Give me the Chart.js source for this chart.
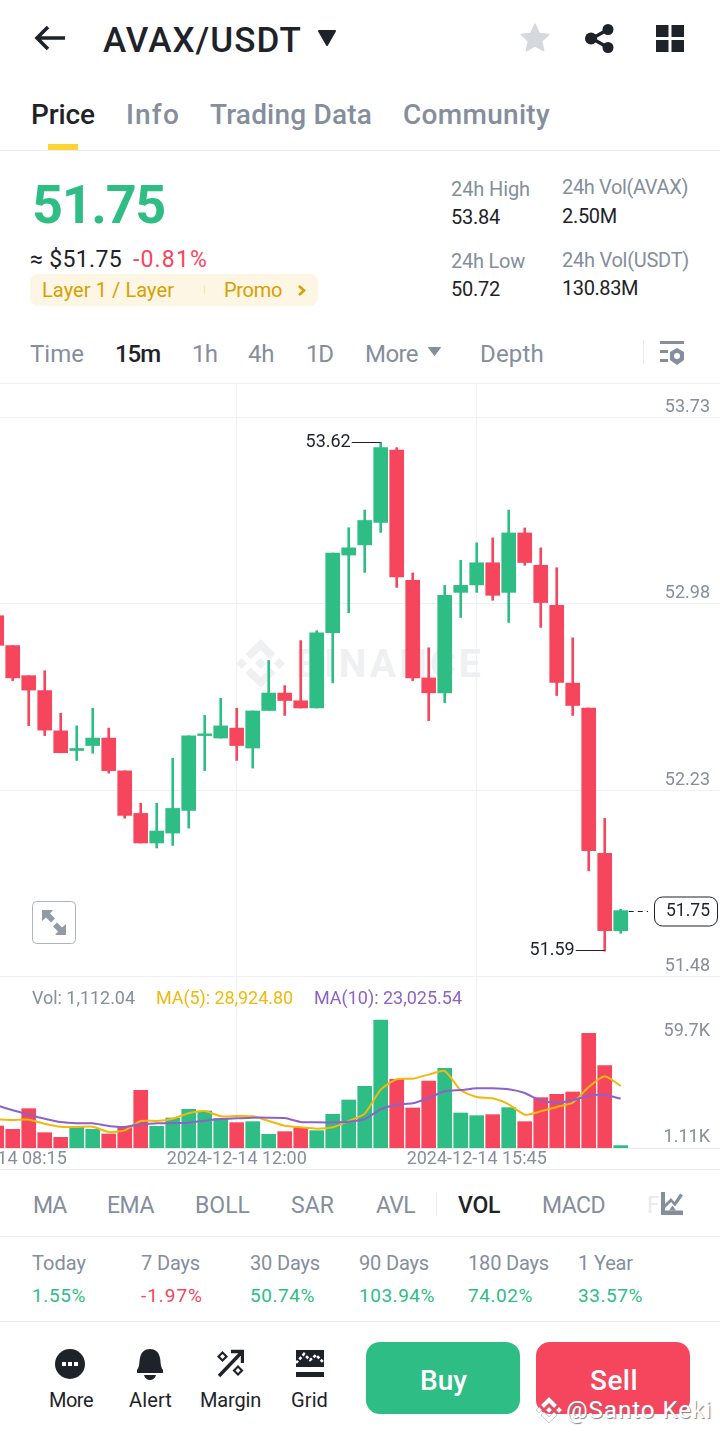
<!DOCTYPE html>
<html>
<head>
<meta charset="utf-8">
<title>AVAX/USDT</title>
<script src="https://cdn.jsdelivr.net/npm/chart.js@4/dist/chart.umd.min.js"></script>
<style>
  html, body { margin: 0; padding: 0; background: #fff; }
  body { width: 720px; height: 1433px; position: relative; overflow: hidden; font-family: Roboto, sans-serif; color: #1e2329; }
  .t { position: absolute; white-space: nowrap; transform: translateY(-50%); line-height: 1; }
  .g { color: #848e9c; }
  .up { color: #2ebd85; }
  .dn { color: #f6465d; }
  .hr { position: absolute; left: 0; width: 720px; height: 1px; background: #eaecef; }
  .vr { position: absolute; width: 1px; background: #eaecef; }
  canvas { position: absolute; left: 0; display: block; }
  svg { position: absolute; display: block; }
  .btn { position: absolute; top: 1342px; width: 154px; height: 72px; border-radius: 14px; }
</style>
</head>
<body>
<svg width="0" height="0" style="position:absolute"><defs><symbol id="bnb" viewBox="0 0 126.61 126.61">
  <path d="M38.73 53.2l24.59-24.58 24.6 24.6 14.3-14.31L63.32 0 24.43 38.88 38.73 53.2z"/>
  <path d="M0 63.31l14.3-14.31 14.31 14.31-14.31 14.3z"/>
  <path d="M38.73 73.41l24.59 24.59 24.6-24.6 14.31 14.29-38.9 38.91-38.91-38.88-.02-.02 14.33-14.29z"/>
  <path d="M98 63.31l14.3-14.31 14.31 14.3-14.31 14.32z"/>
  <path d="M77.83 63.3L63.32 48.78 52.59 59.51l-1.24 1.23-2.54 2.54 14.51 14.5 14.51-14.47z"/>
</symbol></defs></svg>

<!-- header -->
<svg style="left:34px;top:24px" width="32" height="28" viewBox="0 0 32 28"><path d="M14 3 L3 14 L14 25 M3 14 H31" fill="none" stroke="#1e2329" stroke-width="3.6"/></svg>
<span class="t" data-w="199" style="left:103px;top:40px;font-size:35px;font-weight:500">AVAX/USDT</span>
<svg style="left:317px;top:30px" width="20" height="16" viewBox="0 0 20 16"><path d="M2 1 H18 L10 15 Z" fill="#1e2329" stroke="#1e2329" stroke-width="2" stroke-linejoin="round"/></svg>
<svg style="left:519px;top:22px" width="32" height="32" viewBox="0 0 24 24"><path d="M12 1.5l3.2 7 7.3.8-5.4 5 1.5 7.4L12 18l-6.6 3.7 1.5-7.4-5.4-5 7.3-.8z" fill="#d5d9de" stroke="#d5d9de" stroke-linejoin="round"/></svg>
<svg style="left:584px;top:23px" width="31" height="31" viewBox="0 0 31 31"><path d="M23 7 L8 15.5 L23 24" fill="none" stroke="#1e2329" stroke-width="3.4"/><circle cx="24" cy="6.5" r="5.5" fill="#1e2329"/><circle cx="7" cy="15.5" r="6" fill="#1e2329"/><circle cx="24" cy="24.5" r="5.5" fill="#1e2329"/></svg>
<svg style="left:656px;top:25px" width="28" height="27" viewBox="0 0 28 27" fill="#1e2329"><rect width="12.5" height="12"/><rect x="15.5" width="12.5" height="12"/><rect y="15" width="12.5" height="12"/><rect x="15.5" y="15" width="12.5" height="12"/></svg>

<!-- tabs -->
<span class="t" data-w="64" style="left:31px;top:115px;font-size:28px;font-weight:500">Price</span>
<span class="t g" data-w="54" style="left:126px;top:115px;font-size:28px;font-weight:500">Info</span>
<span class="t g" data-w="162" style="left:210px;top:115px;font-size:28px;font-weight:500">Trading Data</span>
<span class="t g" data-w="147" style="left:403px;top:115px;font-size:28px;font-weight:500">Community</span>
<div style="position:absolute;left:48px;top:144px;width:30px;height:6px;background:#fcd535"></div>
<div class="hr" style="top:150px"></div>

<!-- price block -->
<span class="t up" data-w="133" style="left:32px;top:205px;font-size:54px;font-weight:700">51.75</span>
<span class="t" data-w="92" style="left:30px;top:259px;font-size:23px">≈ $51.75</span>
<span class="t dn" data-w="75" style="left:133px;top:259px;font-size:23px">-0.81%</span>
<div style="position:absolute;left:30px;top:274px;width:288px;height:32px;border-radius:8px;background:#fdf6e4"></div>
<span class="t" data-w="132" style="left:42px;top:290px;font-size:20px;color:#d89f00">Layer 1 / Layer</span>
<div style="position:absolute;left:204px;top:286px;width:1px;height:8px;background:#f3e3b3"></div>
<span class="t" data-w="58" style="left:224px;top:290px;font-size:20px;color:#d89f00">Promo</span>
<svg style="left:297px;top:284px" width="9" height="13" viewBox="0 0 9 13"><path d="M2 2 L7 6.5 L2 11" fill="none" stroke="#d89f00" stroke-width="2.6"/></svg>

<span class="t g" data-w="79" style="left:451px;top:189px;font-size:20px">24h High</span>
<span class="t" data-w="49" style="left:451px;top:217px;font-size:20px">53.84</span>
<span class="t g" data-w="74" style="left:451px;top:261px;font-size:20px">24h Low</span>
<span class="t" data-w="49" style="left:451px;top:289px;font-size:20px">50.72</span>
<span class="t g" data-w="126" style="left:562px;top:187px;font-size:20px">24h Vol(AVAX)</span>
<span class="t" data-w="55" style="left:562px;top:216px;font-size:20px">2.50M</span>
<span class="t g" data-w="127" style="left:562px;top:260px;font-size:20px">24h Vol(USDT)</span>
<span class="t" data-w="76" style="left:562px;top:288px;font-size:20px">130.83M</span>

<!-- interval row -->
<span class="t g" data-w="54" style="left:30px;top:354px;font-size:24px">Time</span>
<span class="t" data-w="45" style="left:115px;top:354px;font-size:24px;font-weight:500">15m</span>
<span class="t g" data-w="25" style="left:192px;top:354px;font-size:24px">1h</span>
<span class="t g" data-w="26" style="left:248px;top:354px;font-size:24px">4h</span>
<span class="t g" data-w="27" style="left:306px;top:354px;font-size:24px">1D</span>
<span class="t g" data-w="53" style="left:365px;top:354px;font-size:24px">More</span>
<svg style="left:427px;top:346px" width="15" height="11" viewBox="0 0 15 11"><path d="M1.5 1.5 H13.5 L7.5 9.5 Z" fill="#848e9c" stroke="#848e9c" stroke-linejoin="round"/></svg>
<span class="t g" data-w="64" style="left:480px;top:354px;font-size:24px">Depth</span>
<div class="vr" style="left:643px;top:340px;height:24px"></div>
<svg style="left:660px;top:341px" width="24" height="24" viewBox="0 0 24 24" fill="#848e9c"><rect width="24" height="3"/><rect y="9" width="8" height="3"/><rect y="18" width="8" height="3"/><path d="M17 7 L24 11 V19 L17 24 L10 19 V11 Z"/><circle cx="17" cy="15" r="3" fill="#fff"/></svg>
<div class="hr" style="top:383px;background:#f0f1f2"></div>

<!-- watermark behind the candles -->
<svg style="left:236px;top:639px;fill:#eef0f1" width="49" height="49"><use href="#bnb"/></svg>
<span class="t" data-w="188" style="left:296px;top:664px;font-size:39px;font-weight:700;color:#eef0f1">BINANCE</span>

<canvas id="priceChart" width="720" height="594" style="top:384px"></canvas>
<canvas id="volumeChart" width="720" height="192" style="top:978px"></canvas>

<svg style="left:32px;top:901px" width="44" height="43" viewBox="0 0 44 43"><rect x="0.5" y="0.5" width="43" height="42" rx="4" fill="#fff" stroke="#aeb4bc"/><path d="M10 9 H21 L18 12.5 L23 17.5 L19 21.5 L14 16.5 L10 20 Z M34 34 H23 L26 30.5 L21 25.5 L25 21.5 L30 26.5 L34 23 Z" fill="#939aa5"/></svg>

<!-- volume legend -->
<span class="t g" data-w="103" style="left:32px;top:998px;font-size:18px">Vol: 1,112.04</span>
<span class="t" data-w="137" style="left:156px;top:998px;font-size:18px;color:#f0b90b">MA(5): 28,924.80</span>
<span class="t" data-w="148" style="left:314px;top:998px;font-size:18px;color:#8c62c8">MA(10): 23,025.54</span>
<div class="hr" style="top:1169px"></div>

<!-- indicator row -->
<span class="t g" data-w="33" style="left:33px;top:1205px;font-size:23px">MA</span>
<span class="t g" data-w="47" style="left:107px;top:1205px;font-size:23px">EMA</span>
<span class="t g" data-w="55" style="left:195px;top:1205px;font-size:23px">BOLL</span>
<span class="t g" data-w="43" style="left:291px;top:1205px;font-size:23px">SAR</span>
<span class="t g" data-w="39" style="left:376px;top:1205px;font-size:23px">AVL</span>
<div class="vr" style="left:436px;top:1192px;height:24px"></div>
<span class="t" data-w="42" style="left:458px;top:1205px;font-size:23px;font-weight:500">VOL</span>
<span class="t g" data-w="63" style="left:542px;top:1205px;font-size:23px">MACD</span>
<span class="t" style="left:647px;top:1205px;font-size:23px;color:#e8eaed">F</span>
<svg style="left:661px;top:1192px" width="22" height="23" viewBox="0 0 22 23" fill="#848e9c"><rect y="18.5" width="22" height="4.5"/><rect width="4" height="19"/><path d="M4 12 L10 6 L13.5 10 L19 1.5 L22 3.5 L14 14.5 L10 10 L4 16 Z"/><path d="M8 18.5 L11.5 13.5 L15 18.5 Z"/></svg>
<div class="hr" style="top:1236px"></div>

<!-- performance row -->
<span class="t g" data-w="54" style="left:32px;top:1263px;font-size:20px">Today</span>
<span class="t g" data-w="59" style="left:141px;top:1263px;font-size:20px">7 Days</span>
<span class="t g" data-w="70" style="left:250px;top:1263px;font-size:20px">30 Days</span>
<span class="t g" data-w="70" style="left:359px;top:1263px;font-size:20px">90 Days</span>
<span class="t g" data-w="81" style="left:468px;top:1263px;font-size:20px">180 Days</span>
<span class="t g" data-w="55" style="left:578px;top:1263px;font-size:20px">1 Year</span>
<span class="t up" data-w="54" style="left:32px;top:1295px;font-size:19px">1.55%</span>
<span class="t dn" data-w="62" style="left:141px;top:1295px;font-size:19px">-1.97%</span>
<span class="t up" data-w="65" style="left:250px;top:1295px;font-size:19px">50.74%</span>
<span class="t up" data-w="76" style="left:359px;top:1295px;font-size:19px">103.94%</span>
<span class="t up" data-w="65" style="left:468px;top:1295px;font-size:19px">74.02%</span>
<span class="t up" data-w="65" style="left:578px;top:1295px;font-size:19px">33.57%</span>
<div class="hr" style="top:1321px"></div>

<!-- bottom bar -->
<svg style="left:55px;top:1349px" width="30" height="30" viewBox="0 0 30 30"><circle cx="15" cy="15" r="15" fill="#1e2329"/><rect x="7" y="13" width="4" height="4" fill="#fff"/><rect x="13" y="13" width="4" height="4" fill="#fff"/><rect x="19" y="13" width="4" height="4" fill="#fff"/></svg>
<svg style="left:136px;top:1348px" width="28" height="32" viewBox="0 0 28 32" fill="#1e2329"><path d="M1 22 C4 18 3 14 4 10 C5 4 9 1 14 1 C19 1 23 4 24 10 C25 14 24 18 27 22 V25 H1 Z"/><path d="M8 27 H20 C19 31 16 32 14 32 C12 32 9 31 8 27 Z"/></svg>
<svg style="left:216px;top:1349px" width="28" height="30" viewBox="0 0 28 30" fill="#1e2329"><path d="M3 27 L25 4 M15 2.5 H26.5 V14" fill="none" stroke="#1e2329" stroke-width="3.4"/><path d="M6.5 2 L12 7.5 L6.5 13 L1 7.5 Z M6.5 5 L9 7.5 L6.5 10 L4 7.5 Z" fill-rule="evenodd"/><path d="M22 16 L27.5 21.5 L22 27 L16.5 21.5 Z M22 19 L24.5 21.5 L22 24 L19.5 21.5 Z" fill-rule="evenodd"/></svg>
<svg style="left:296px;top:1349px" width="28" height="30" viewBox="0 0 28 30" fill="#1e2329"><path d="M0 1 H28 V18 H0 Z"/><rect y="23" width="28" height="5"/><path d="M0 14 L8 5 L14 11 L20 6 L28 14" fill="none" stroke="#fff" stroke-width="2.6" stroke-dasharray="3 2"/></svg>
<span class="t" data-w="44" style="left:49px;top:1400px;font-size:20px">More</span>
<span class="t" data-w="43" style="left:129px;top:1400px;font-size:20px">Alert</span>
<span class="t" data-w="61" style="left:200px;top:1400px;font-size:20px">Margin</span>
<span class="t" data-w="37" style="left:291px;top:1400px;font-size:20px">Grid</span>
<div class="btn" style="left:366px;background:#2ebd85"></div>
<div class="btn" style="left:536px;background:#f6465d"></div>
<span class="t" data-w="47" style="left:420px;top:1381px;font-size:28px;font-weight:500;color:#fff">Buy</span>
<span class="t" data-w="48" style="left:590px;top:1381px;font-size:28px;font-weight:500;color:#fff">Sell</span>
<svg style="left:536px;top:1396px;fill:#fff;stroke:#a4a9b0;stroke-width:3" width="26" height="28"><use href="#bnb"/></svg>
<span class="t" data-w="146" style="left:566px;top:1410px;font-size:24px;color:#fff;text-shadow:1px 1px 1px #7a7f86">@Santo Keki</span>

<script>
const upColor = '#2ebd85'
const downColor = '#f6465d'
const gridColor = '#eef0f2'

// 15m candles, oldest first
const opens = [52.931, 52.811, 52.690, 52.630, 52.468, 52.389, 52.409, 52.439, 52.307, 52.136,
  52.017, 52.057, 52.148, 52.449, 52.439, 52.479, 52.399, 52.550, 52.620, 52.589,
  52.560, 52.863, 53.175, 53.216, 53.306, 53.597, 53.073, 52.681, 52.621, 53.025,
  53.055, 53.144, 53.025, 53.264, 53.134, 52.973, 52.660, 52.560, 51.975, 51.664]
const highs = [52.931, 52.811, 52.690, 52.710, 52.539, 52.488, 52.559, 52.479, 52.307, 52.177,
  52.177, 52.358, 52.448, 52.530, 52.599, 52.559, 52.548, 52.751, 52.650, 52.831,
  52.871, 53.183, 53.285, 53.356, 53.628, 53.607, 53.103, 52.802, 53.053, 53.154,
  53.224, 53.244, 53.356, 53.284, 53.204, 53.124, 52.842, 52.560, 52.116, 51.751]
const lows = [52.812, 52.670, 52.489, 52.449, 52.380, 52.349, 52.378, 52.298, 52.117, 52.017,
  51.997, 52.007, 52.077, 52.308, 52.439, 52.349, 52.318, 52.550, 52.530, 52.560,
  52.560, 52.661, 52.943, 53.105, 53.266, 53.045, 52.670, 52.509, 52.581, 52.924,
  53.025, 52.993, 52.904, 53.134, 52.884, 52.610, 52.530, 51.905, 51.582, 51.654]
const closes = [52.812, 52.681, 52.632, 52.471, 52.380, 52.397, 52.439, 52.308, 52.128, 52.017,
  52.065, 52.156, 52.448, 52.456, 52.488, 52.409, 52.548, 52.620, 52.590, 52.560,
  52.862, 53.183, 53.204, 53.314, 53.607, 53.087, 52.681, 52.621, 53.013, 53.053,
  53.144, 53.013, 53.264, 53.145, 52.984, 52.663, 52.570, 51.986, 51.664, 51.745]

const volumes = [10263, 8708, 18349, 7153, 4976, 9797, 8708, 6531, 9797, 26902,
  10108, 13995, 18038, 17261, 13684, 11818, 12285, 6376, 7620, 9330,
  8086, 15706, 22392, 28768, 59700, 32033, 18660, 31256, 37165, 16328,
  15084, 15550, 18816, 12285, 23481, 25036, 26124, 53492, 38409, 1112.04]
const ma5 = [13373, 13062, 13218, 11352, 9952, 9797, 9952, 7464, 8242, 12596,
  12596, 13684, 16172, 17261, 14773, 14928, 14773, 12596, 10419, 9641,
  9019, 9641, 12596, 16017, 27213, 32033, 32344, 34210, 35921, 26902,
  23792, 23170, 20371, 15550, 17105, 19127, 21148, 28457, 33433, 28924.8]
const ma10 = [19904, 17572, 15550, 13684, 12129, 11507, 11507, 10263, 9797, 11196,
  11507, 11663, 11818, 12751, 13529, 13840, 14151, 14151, 13995, 12129,
  11974, 11974, 12285, 13529, 18038, 20215, 20837, 23325, 26435, 27057,
  27835, 27835, 27368, 25658, 22081, 21148, 22237, 24414, 24725, 23025.54]

const priceTicks = [53.73, 52.98, 52.23, 51.48]
const timeTickIndexes = [0, 15, 30]
const timeTickLabels = ['2024-12-14 08:15', '2024-12-14 12:00', '2024-12-14 15:45']
const volumeTicks = [59700, 1112.04]
const volumeTickLabels = ['59.7K', '1.11K']

const highMark = { index: 24, label: '53.62' }
const lowMark = { index: 38, label: '51.59' }
const lastPrice = '51.75'

// the window shows 45 candle slots, the oldest candle hangs over the left edge
const xRange = { min: 0.205, max: 45.205 }

Chart.defaults.font.family = 'Roboto, sans-serif'
Chart.defaults.animation = false
Chart.defaults.responsive = false
Chart.defaults.plugins.legend.display = false
Chart.defaults.plugins.tooltip.enabled = false

// flat axes: no space taken away from the plot
function flatten(scale, size) {
  scale.paddingLeft = scale.paddingRight = scale.paddingTop = scale.paddingBottom = 0
  if (scale.isHorizontal()) scale.height = size
  else scale.width = size
}

const candleColor = (i) => (closes[i] >= opens[i] ? upColor : downColor)

const priceMarks = {
  id: 'priceMarks',
  afterDraw(chart) {
    const { ctx, scales: { x, y } } = chart
    ctx.save()
    ctx.font = '18px Roboto, sans-serif'
    ctx.fillStyle = '#1e2329'
    ctx.strokeStyle = '#1e2329'
    ctx.lineWidth = 1
    ctx.textBaseline = 'middle'

    const hx = x.getPixelForValue(highMark.index)
    const hy = Math.round(y.getPixelForValue(highs[highMark.index])) + 0.5
    ctx.beginPath()
    ctx.moveTo(hx, hy)
    ctx.lineTo(hx - 29, hy)
    ctx.stroke()
    ctx.textAlign = 'right'
    ctx.fillText(highMark.label, hx - 30, hy)

    const lx = x.getPixelForValue(lowMark.index)
    const ly = Math.round(y.getPixelForValue(lows[lowMark.index])) - 0.5
    ctx.beginPath()
    ctx.moveTo(lx, ly)
    ctx.lineTo(lx - 29, ly)
    ctx.stroke()
    ctx.fillText(lowMark.label, lx - 30, ly)

    // last price pill
    const last = closes.length - 1
    const py = Math.round(y.getPixelForValue(closes[last])) + 0.5
    ctx.setLineDash([5, 4])
    ctx.beginPath()
    ctx.moveTo(x.getPixelForValue(last) + 8, py)
    ctx.lineTo(648, py)
    ctx.stroke()
    ctx.setLineDash([])
    ctx.fillStyle = '#fff'
    ctx.beginPath()
    ctx.roundRect(654.5, py - 14.5, 63, 29, 8)
    ctx.fill()
    ctx.stroke()
    ctx.fillStyle = '#1e2329'
    ctx.textAlign = 'center'
    ctx.font = '17.5px Roboto, sans-serif'
    ctx.fillText(lastPrice, 688, py + 0.5)
    ctx.restore()
  },
}

new Chart(document.getElementById('priceChart'), {
  type: 'bar',
  data: {
    datasets: [
      {
        data: lows.map((low, i) => ({ x: i, y: [low, highs[i]] })),
        barThickness: 2,
        grouped: false,
        backgroundColor: (c) => candleColor(c.dataIndex),
      },
      {
        data: opens.map((open, i) => ({ x: i, y: [open, closes[i]] })),
        barThickness: 14,
        grouped: false,
        backgroundColor: (c) => candleColor(c.dataIndex),
      },
    ],
  },
  options: {
    layout: { padding: 0 },
    scales: {
      x: {
        type: 'linear',
        offset: false,
        min: xRange.min,
        max: xRange.max,
        afterBuildTicks: (scale) => {
          scale.ticks = timeTickIndexes.slice(1).map((value) => ({ value }))
        },
        afterFit: (scale) => flatten(scale, 0),
        ticks: { display: false },
        border: { display: false },
        grid: { color: gridColor, offset: false, drawTicks: false },
      },
      y: {
        position: 'right',
        min: 51.474,
        max: 53.863,
        beginAtZero: false,
        afterBuildTicks: (scale) => {
          scale.ticks = priceTicks.map((value) => ({ value }))
        },
        afterFit: (scale) => flatten(scale, 0),
        ticks: {
          mirror: true,
          padding: -10,
          labelOffset: -10,
          color: '#848e9c',
          font: { size: 18 },
          callback: (v) => v.toFixed(2),
        },
        border: { display: false },
        grid: { color: gridColor, drawTicks: false },
      },
    },
  },
  plugins: [priceMarks],
})

const volumeLabels = {
  id: 'volumeLabels',
  afterDraw(chart) {
    const { ctx, scales: { y } } = chart
    ctx.save()
    ctx.font = '18px Roboto, sans-serif'
    ctx.fillStyle = '#848e9c'
    ctx.textAlign = 'right'
    ctx.textBaseline = 'middle'
    ctx.fillText(volumeTickLabels[0], 710, y.getPixelForValue(volumeTicks[0]) + 12)
    ctx.fillText(volumeTickLabels[1], 710, y.getPixelForValue(volumeTicks[1]) - 8)
    ctx.restore()
  },
}

const maLine = (values, color) => ({
  type: 'line',
  data: values.map((y, x) => ({ x, y })),
  borderColor: color,
  borderWidth: 2,
  pointRadius: 0,
  tension: 0.2,
  order: 1,
})

new Chart(document.getElementById('volumeChart'), {
  type: 'bar',
  data: {
    datasets: [
      maLine(ma10, '#8c62c8'),
      maLine(ma5, '#f0b90b'),
      {
        data: volumes.map((y, x) => ({ x, y })),
        barThickness: 14,
        backgroundColor: (c) => candleColor(c.dataIndex),
        order: 2,
      },
    ],
  },
  options: {
    layout: { padding: 0 },
    scales: {
      x: {
        type: 'linear',
        offset: false,
        min: xRange.min,
        max: xRange.max,
        afterBuildTicks: (scale) => {
          scale.ticks = timeTickIndexes.map((value) => ({ value }))
        },
        afterFit: (scale) => flatten(scale, 22),
        ticks: {
          autoSkip: false,
          maxRotation: 0,
          padding: 1,
          color: '#848e9c',
          font: { size: 18 },
          callback: (v) => timeTickLabels[timeTickIndexes.indexOf(v)],
        },
        border: { display: true, color: '#e6e8ea' },
        grid: { color: gridColor, offset: false, drawTicks: false },
      },
      y: {
        position: 'right',
        min: 0,
        max: 79288,
        afterBuildTicks: (scale) => {
          scale.ticks = volumeTicks.map((value) => ({ value }))
        },
        afterFit: (scale) => flatten(scale, 0),
        ticks: { display: false },
        border: { display: false },
        grid: { display: false },
      },
    },
  },
  plugins: [volumeLabels],
})

// squeeze or stretch each label to the width measured on the picture
document.fonts.ready.then(() => {
  document.querySelectorAll('.t[data-w]').forEach((el) => {
    const n = el.textContent.length
    el.style.letterSpacing = (el.dataset.w - el.getBoundingClientRect().width) / n + 'px'
  })
})
</script>
</body>
</html>
